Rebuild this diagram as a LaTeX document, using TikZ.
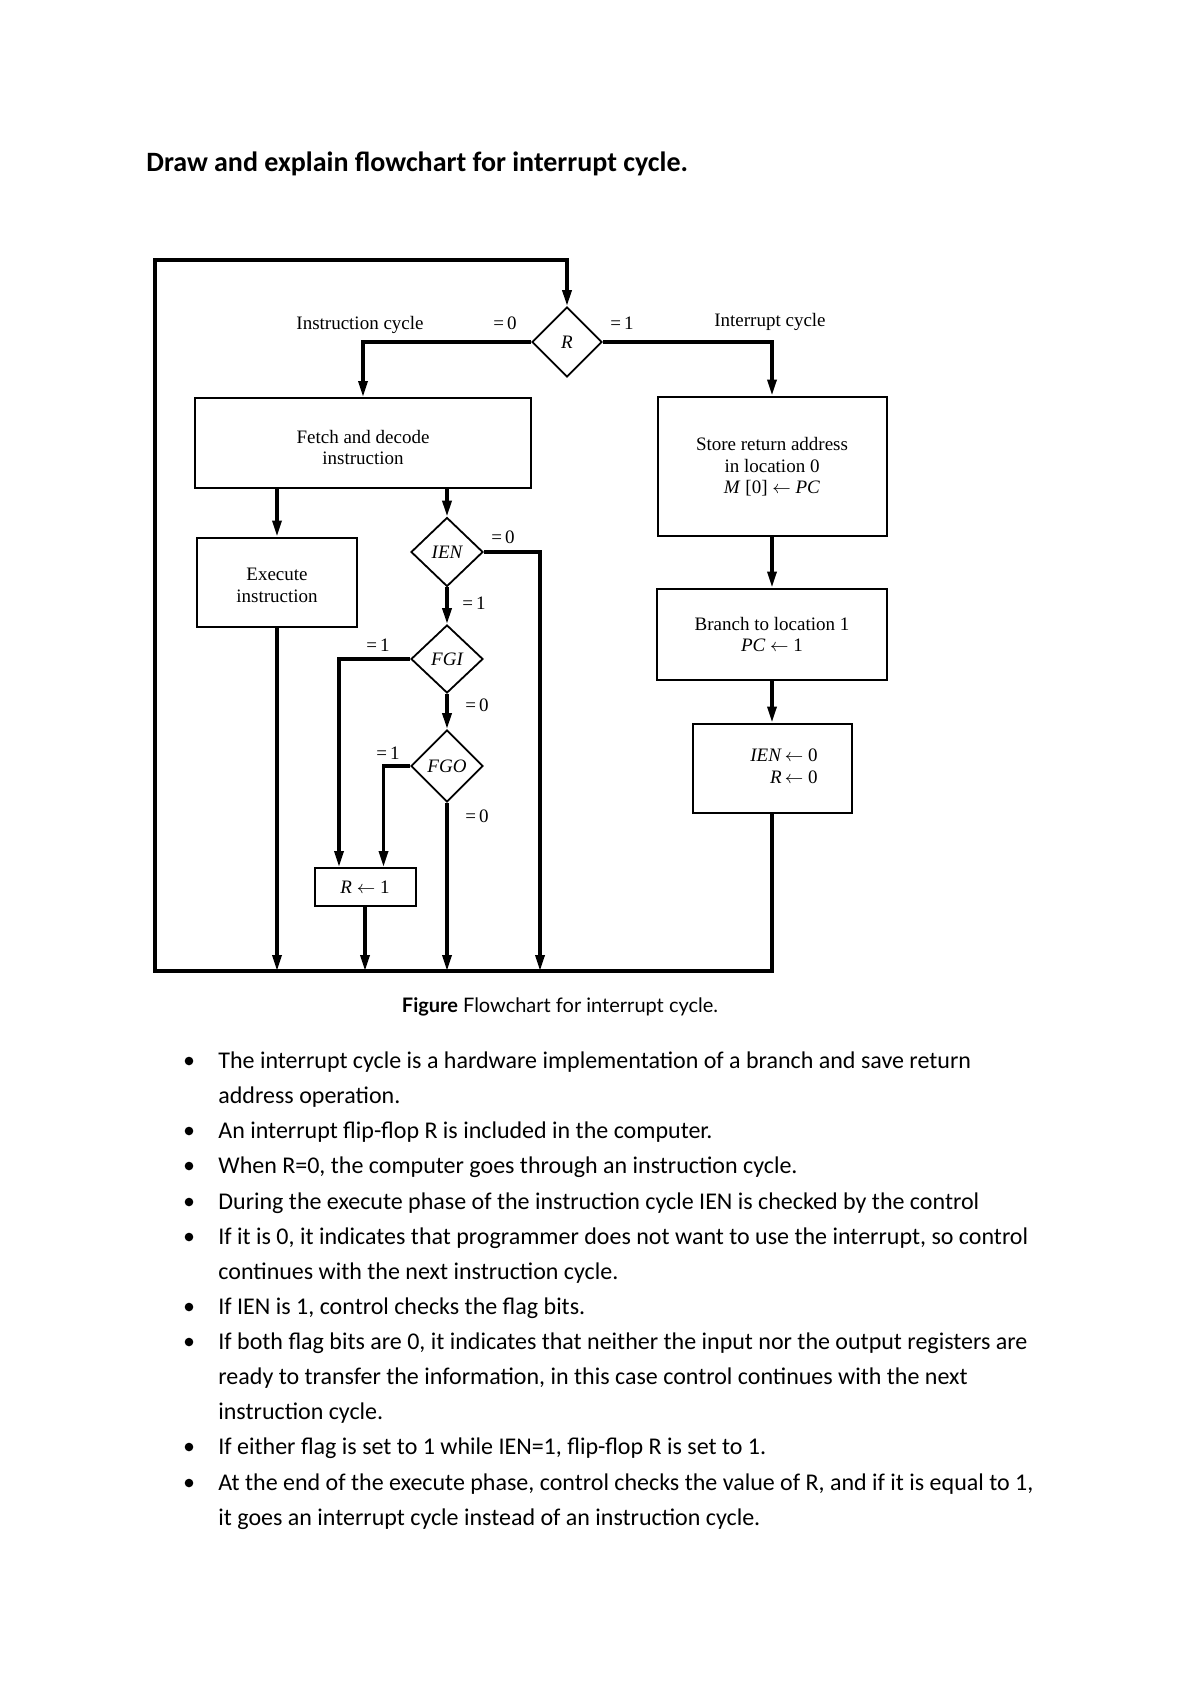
\documentclass[tikz,border=0pt]{standalone}
\usepackage{fontspec}
\setmainfont{Carlito}
\newfontfamily\chartfont{Liberation Serif}
\newfontfamily\capfont{Lato}
\usetikzlibrary{shapes.geometric,arrows.meta}

\begin{document}
\begin{tikzpicture}[x=0.5pt,y=-0.5pt,
  box/.style={draw,line width=1pt,align=center,inner sep=0pt,font=\chartfont\fontsize{9.5}{10.8}\selectfont},
  test/.style={draw,diamond,line width=0.9pt,inner sep=0pt,font=\chartfont\itshape\fontsize{9.5}{10.8}\selectfont},
  lbl/.style={inner sep=0pt,font=\chartfont\fontsize{9.5}{10.8}\selectfont},
  flow/.style={line width=1.7pt,-{Triangle[length=8pt,width=4.5pt]}},
  txt/.style={anchor=base west,inner sep=0pt,font=\fontsize{12}{14}\selectfont}]
  \useasboundingbox (0,0) rectangle (1200,1696);
  \fill[white] (0,0) rectangle (1200,1696);

  \node[anchor=base west,inner sep=0pt,font=\bfseries\fontsize{14}{16}\selectfont] (title) at (146,172) {Draw and explain flowchart for interrupt cycle.};

  % decision on R
  \node[test,minimum width=35pt,minimum height=35pt] (R) at (567,342) {R};
  \node[lbl] (instr) at (360,325) {Instruction cycle};
  \node[lbl] (intr) at (770,322) {Interrupt cycle};
  \node[lbl] (r0) at (505,323) {=\,0};
  \node[lbl] (r1) at (622,323) {=\,1};

  % instruction cycle side
  \node[box,minimum width=168pt,minimum height=45pt] (fetch) at (363,443) {\raisebox{-3.3pt}[\height][\depth]{\begin{tabular}{@{}c@{}}Fetch and decode\\instruction\end{tabular}}};
  \node[box,minimum width=80pt,minimum height=44.5pt] (exec) at (277,582) {\raisebox{-2.7pt}[\height][\depth]{\begin{tabular}{@{}c@{}}Execute\\instruction\end{tabular}}};
  \node[test,minimum width=36pt,minimum height=34.5pt] (ien) at (447,552) {IEN};
  \node[test,minimum width=36pt,minimum height=34pt] (fgi) at (447,659) {FGI};
  \node[test,minimum width=36pt,minimum height=36pt] (fgo) at (447,766) {FGO};
  \node[box,minimum width=50.5pt,minimum height=19pt] (rset) at (365,887) {\textit{R} $\leftarrow$ 1};
  \node[lbl] (ien0) at (503,537) {=\,0};
  \node[lbl] (ien1) at (474,603) {=\,1};
  \node[lbl] (fgi1) at (378,645) {=\,1};
  \node[lbl] (fgi0) at (477,705) {=\,0};
  \node[lbl] (fgo1) at (388,753) {=\,1};
  \node[lbl] (fgo0) at (477,816) {=\,0};

  % interrupt cycle side
  \node[box,minimum width=114.5pt,minimum height=69.5pt] (store) at (772,466) {\raisebox{-1pt}[\height][\depth]{\begin{tabular}{@{}c@{}}Store return address\\in location 0\\\textit{M} [0] $\leftarrow$ \textit{PC}\end{tabular}}};
  \node[box,minimum width=115pt,minimum height=45.5pt] (branch) at (772,634) {\raisebox{-1.3pt}[\height][\depth]{\begin{tabular}{@{}c@{}}Branch to location 1\\\textit{PC} $\leftarrow$ 1\end{tabular}}};
  \node[box,minimum width=79.5pt,minimum height=44.5pt] (clear) at (772,768) {\hspace*{12pt}\begin{tabular}{@{}r@{}l@{}}\textit{IEN} & $\,\leftarrow$ 0\\ \textit{R} & $\,\leftarrow$ 0\end{tabular}};

  \coordinate (br) at (772,971);
  \coordinate (bl) at (155,971);
  \coordinate (tl) at (155,260);
  \coordinate (ienoff) at (540,971);

  \draw[flow] (R.west) -| (fetch.north);
  \draw[flow] (R.east) -| (store.north);
  \draw[flow] (store) -- (branch);
  \draw[flow] (branch) -- (clear);
  \draw[flow] (clear.south) -- (br) -- (bl) -- (tl) -| (R.north);

  \draw[flow] (exec.north |- fetch.south) -- (exec.north);
  \draw[flow] (ien.north |- fetch.south) -- (ien.north);
  \draw[flow] (exec.south) -- (exec.south |- bl);
  \draw[flow] (ien.east) -| (ienoff);
  \draw[flow] (ien) -- (fgi);
  \draw[flow] (fgi) -- (fgo);
  \draw[flow] (fgi.west) -| ([xshift=-13pt]rset.north);
  \draw[flow] (fgo.west) -| ([xshift=9.25pt]rset.north);
  \draw[flow] (fgo.south) -- (fgo.south |- bl);
  \draw[flow] (rset.south) -- (rset.south |- bl);

  \node[anchor=base,inner sep=0pt,font=\capfont\fontsize{10}{12}\selectfont] (caption) at (560,1012) {\textbf{Figure} Flowchart for interrupt cycle.};

  % notes
  \fill (189,1061) circle (4.3);
  \node[txt] (l1) at (218,1068) {The interrupt cycle is a hardware implementation of a branch and save return};
  \node[txt] (l2) at (218,1103) {address operation.};
  \fill (189,1131) circle (4.3);
  \node[txt] (l3) at (218,1138) {An interrupt flip-flop R is included in the computer.};
  \fill (189,1166) circle (4.3);
  \node[txt] (l4) at (218,1173) {When R=0, the computer goes through an instruction cycle.};
  \fill (189,1202) circle (4.3);
  \node[txt] (l5) at (218,1209) {During the execute phase of the instruction cycle IEN is checked by the control};
  \fill (189,1237) circle (4.3);
  \node[txt] (l6) at (218,1244) {If it is 0, it indicates that programmer does not want to use the interrupt, so control};
  \node[txt] (l7) at (218,1279) {continues with the next instruction cycle.};
  \fill (189,1307) circle (4.3);
  \node[txt] (l8) at (218,1314) {If IEN is 1, control checks the flag bits.};
  \fill (189,1342) circle (4.3);
  \node[txt] (l9) at (218,1349) {If both flag bits are 0, it indicates that neither the input nor the output registers are};
  \node[txt] (l10) at (218,1384) {ready to transfer the information, in this case control continues with the next};
  \node[txt] (l11) at (218,1419) {instruction cycle.};
  \fill (189,1447) circle (4.3);
  \node[txt] (l12) at (218,1454) {If either flag is set to 1 while IEN=1, flip-flop R is set to 1.};
  \fill (189,1483) circle (4.3);
  \node[txt] (l13) at (218,1490) {At the end of the execute phase, control checks the value of R, and if it is equal to 1,};
  \node[txt] (l14) at (218,1525) {it goes an interrupt cycle instead of an instruction cycle.};
\end{tikzpicture}
\end{document}
